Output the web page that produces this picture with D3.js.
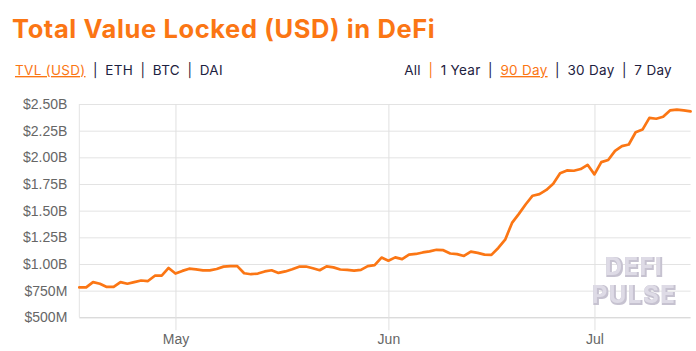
<!DOCTYPE html>
<html><head><meta charset="utf-8">
<script src="https://cdn.jsdelivr.net/npm/d3@7"></script>
<style>
html,body{margin:0;padding:0;background:#fff;}
svg{display:block;}
</style></head>
<body>
<svg id="chart" width="696" height="351"></svg>
<script>
// ---- data ----
const startDate = "2020-04-17";
const tvlValues = [
 0.78,0.78,0.83,0.815,0.785,0.785,0.83,0.815,0.83,0.845,
 0.84,0.89,0.89,0.963,0.91,0.935,0.956,0.95,0.94,0.94,
 0.953,0.975,0.98,0.98,0.913,0.904,0.91,0.93,0.941,0.916,
 0.93,0.95,0.975,0.976,0.96,0.941,0.978,0.968,0.948,0.944,
 0.937,0.945,0.98,0.99,1.06,1.031,1.062,1.045,1.088,1.094,
 1.108,1.118,1.133,1.129,1.098,1.092,1.075,1.116,1.104,1.088,
 1.085,1.15,1.228,1.385,1.47,1.56,1.64,1.655,1.694,1.752,
 1.85,1.877,1.874,1.89,1.93,1.84,1.955,1.975,2.06,2.105,
 2.12,2.235,2.26,2.37,2.362,2.38,2.44,2.447,2.44,2.431
]; // billions USD, daily
const yTickValues = [0.5,0.75,1.0,1.25,1.5,1.75,2.0,2.25,2.5];
const yTickLabels = ["$500M","$750M","$1.00B","$1.25B","$1.50B","$1.75B","$2.00B","$2.25B","$2.50B"];
const xTickDates = ["2020-05-01","2020-06-01","2020-07-01"];
const xTickLabels = ["May","Jun","Jul"];
const metricTabs = ["TVL (USD)","ETH","BTC","DAI"];
const rangeTabs = ["All","1 Year","90 Day","30 Day","7 Day"];

(function(){
const orange = "#fb7614";
const navy = "#1d2140";

const parse = d3.utcParse("%Y-%m-%d");
const t0 = parse(startDate);
const data = tvlValues.map((v,i)=>({date:d3.utcDay.offset(t0,i), value:v}));

const svg = d3.select("#chart");
const pL = 79.3, pR = 690.6, pT = 104, pB = 317.3;

const x = d3.scaleUtc().domain([data[0].date, data[data.length-1].date]).range([pL,pR]);
const y = d3.scaleLinear().domain([0.5,2.5]).range([pB,pT]);

const defs = svg.append("defs");
const f = defs.append("filter").attr("id","wmshadow").attr("x","-20%").attr("y","-20%").attr("width","140%").attr("height","140%");
f.append("feMorphology").attr("in","SourceAlpha").attr("operator","dilate").attr("radius",0.8).attr("result","dil");
f.append("feOffset").attr("in","dil").attr("dx",1).attr("dy",1.2).attr("result","off");
f.append("feFlood").attr("flood-color","#c6c2d0").attr("result","col");
f.append("feComposite").attr("in","col").attr("in2","off").attr("operator","in").attr("result","sh");
const fm = f.append("feMerge");
fm.append("feMergeNode").attr("in","sh");
fm.append("feMergeNode").attr("in","SourceGraphic");

// title
svg.append("text").attr("x",12).attr("y",37.5)
  .attr("font-family","Inter, 'Open Sans', sans-serif").attr("font-weight",700)
  .attr("font-size",25.5).attr("letter-spacing",0.6).attr("fill",orange)
  .text("Total Value Locked (USD) in DeFi");

// tabs
const tabFont = "Inter, 'Open Sans', sans-serif";
function tabRow(items, activeIdx, anchorX, alignRight, sepColors){
  const g = svg.append("g").attr("font-family",tabFont).attr("font-size",13.5)
    .attr("letter-spacing",0.3);
  let cx = 0;
  items.forEach((t,i)=>{
    if(i>0){
      cx += 7.5;
      const s = g.append("text").attr("x",cx).attr("y",75).attr("fill",sepColors(i)).text("|");
      cx += s.node().getComputedTextLength() + 7.5;
    }
    const e = g.append("text").attr("x",cx).attr("y",75)
      .attr("fill", i===activeIdx?orange:navy).text(t);
    if(i===activeIdx) e.attr("text-decoration","underline");
    cx += e.node().getComputedTextLength();
  });
  const shift = alignRight ? anchorX - cx : anchorX;
  g.attr("transform",`translate(${shift},0)`);
}
tabRow(metricTabs, 0, 15, false, ()=>navy);
tabRow(rangeTabs, 2, 672, true, i=> i===1?orange:navy);

// horizontal grid
const gy = svg.append("g").attr("transform",`translate(${pL},0)`)
  .call(d3.axisLeft(y).tickValues(yTickValues).tickSize(-(pR-pL)).tickFormat((d,i)=>yTickLabels[i]).tickPadding(12));
gy.select(".domain").remove();
gy.selectAll(".tick line").attr("stroke","#e3e3e3").attr("stroke-width",1);
gy.selectAll(".tick text").attr("fill","#666").attr("font-size",14)
  .attr("font-family","'Liberation Sans', Arial, sans-serif");
gy.selectAll(".tick").filter(d=>d===0.5).select("line").attr("stroke","#cccccc");

// left border
svg.append("line").attr("x1",pL).attr("x2",pL).attr("y1",pT).attr("y2",pB)
  .attr("stroke","#e3e3e3");

// vertical month grid
const gx = svg.append("g").attr("transform",`translate(0,${pB})`)
  .call(d3.axisBottom(x).tickValues(xTickDates.map(parse))
    .tickSize(-(pB-pT)).tickFormat((d,i)=>xTickLabels[i]).tickPadding(0));
gx.select(".domain").remove();
gx.selectAll(".tick line").attr("stroke","#e0e0e0").attr("y1",13);
gx.selectAll(".tick text").attr("fill","#666").attr("font-size",14).attr("dy","1.9em")
  .attr("font-family","'Liberation Sans', Arial, sans-serif");

// watermark
const wm = svg.append("g").attr("font-family","Inter, 'DejaVu Sans', sans-serif")
  .attr("font-weight",700).attr("font-size",24).attr("text-anchor","middle")
  .attr("letter-spacing",1.5).attr("filter","url(#wmshadow)");
wm.append("text").attr("x",634).attr("y",275).attr("fill","#dedbe6").text("DEFI");
wm.append("text").attr("x",634).attr("y",302.5).attr("fill","#dedbe6").text("PULSE");

// line
svg.append("path").datum(data)
  .attr("fill","none").attr("stroke",orange).attr("stroke-width",2.7)
  .attr("stroke-linejoin","round").attr("stroke-linecap","round")
  .attr("d",d3.line().x(d=>x(d.date)).y(d=>y(d.value)));
})();
</script>
</body></html>
